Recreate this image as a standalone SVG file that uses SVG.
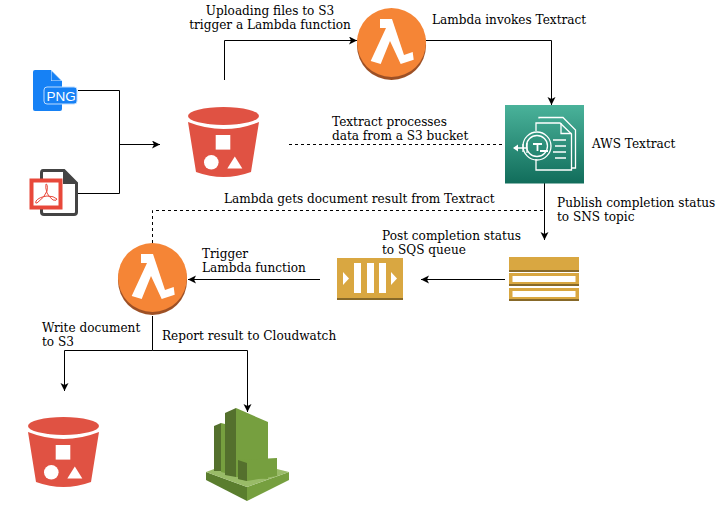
<svg xmlns="http://www.w3.org/2000/svg" width="726" height="519" viewBox="0 0 726 519">
<style>
text{font-family:"DejaVu Serif",serif;font-size:12.1px;fill:#000}
.c{fill:none;stroke:#000;stroke-width:1}
.d{stroke-dasharray:3 3}
.w{fill:#fff}
.r{fill:#e05243}
.o{fill:#f58536}
.g{fill:#d9a741}
.dg{fill:#876929}
</style>
<defs>
<marker id="a" markerUnits="userSpaceOnUse" markerWidth="10" markerHeight="10" refX="8" refY="4" orient="auto"><path d="M0 0L8 4L0 8L2 4Z" fill="#000"/></marker>
<g id="s3">
<path class="r" d="M0 15Q35.500 29 71 15L63 65Q35.500 75 8 65Z"/>
<ellipse class="r" cx="35.500" cy="9" rx="35.500" ry="9"/>
<rect class="w" x="27.700" y="28" width="14.600" height="14.600"/>
<circle class="w" cx="23.300" cy="55.300" r="7.300"/>
<path class="w" d="M39.300 61.500L46.800 49.500L54.300 61.500Z"/>
</g>
<g id="lam">
<circle cx="34.500" cy="37.500" r="34.500" fill="#9d5025"/>
<circle class="o" cx="34.500" cy="34.500" r="34.500"/>
<path class="w" d="M23 11H35L47 47L55.700 44L56.700 51.700L43.700 56L33 33L23.700 56L13.700 53L29 20H23Z"/>
</g>
<linearGradient id="tg" x1="0" y1="0" x2="0" y2="1"><stop offset="0" stop-color="#4ab29a"/><stop offset="1" stop-color="#116d5b"/></linearGradient>
</defs>

<g id="connectors">
<path class="c" d="M78 90.500H119.500V193.500H78M119.500 144.500H160" marker-end="url(#a)"/>
<path class="c" d="M224.500 80V40.500H357" marker-end="url(#a)"/>
<path class="c" d="M426 40.500H551.500V105" marker-end="url(#a)"/>
<path class="c d" d="M289 144.500H505"/>
<path class="c" d="M544.500 183V240" marker-end="url(#a)"/>
<path class="c d" d="M152.500 243V210.500H544"/>
<path class="c" d="M505 279.500H421" marker-end="url(#a)"/>
<path class="c" d="M320 279.500H188" marker-end="url(#a)"/>
<path class="c" d="M152.500 316V350.500H64.500V391" marker-end="url(#a)"/>
<path class="c" d="M152.500 350.500H247.500V412" marker-end="url(#a)"/>
</g>

<g id="png">
<path d="M35 70H51L62 81V109Q62 111 60 111H35Q33 111 33 109V72Q33 70 35 70Z" fill="#1681f5"/>
<path d="M51 70V81H62" fill="#fff" opacity=".85"/>
<path d="M51.500 71L61 80.500H51.500Z" fill="#1681f5"/>
<rect x="44" y="87" width="33" height="17" rx="3" fill="#1681f5" stroke="#bcdcff" stroke-width="1"/>
<text x="46.500" y="101" style="font-family:'Liberation Sans',sans-serif;font-size:13.500px;fill:#fff">PNG</text>
</g>
<g id="pdf">
<path d="M43 170.500H64L76.500 183V212Q76.500 214.500 74 214.500H44Q41.500 214.500 41.500 212V173Q41.500 170.500 43 170.500Z" fill="#fff" stroke="#444" stroke-width="3"/>
<path d="M63 170L77 184H63Z" fill="#444"/>
<rect x="30" y="179" width="32" height="30" fill="#fff"/>
<rect x="31.500" y="180.500" width="29" height="27" fill="#fff" stroke="#e8483a" stroke-width="4"/>
<path d="M46 184Q48 184 47 191Q45 197 37 203Q35 204 36 201Q39 197 47 196Q54 196 57 199Q57 201 53 200Q49 197 47 193Q45 187 46 184Z" fill="none" stroke="#e8483a" stroke-width="1"/>
</g>
<g id="s3-source"><use href="#s3" x="188" y="107"/></g>
<g id="lambda-trigger"><use href="#lam" x="357" y="8"/></g>
<g id="textract">
<rect x="505" y="105" width="79" height="78.500" fill="url(#tg)"/>
<g fill="none" stroke="#fff" stroke-width="1.300">
<path d="M539 118.500V117.500H563L575.500 130V168H572"/>
<path d="M536 131V123H560L571.500 134V170H536V159"/>
<path d="M561 123V133.500H571.500"/>
<circle cx="537" cy="146" r="10.500"/>
<circle cx="537" cy="146" r="14"/>
<path d="M553 140H566M555 146H566M553 152H566M555 158H566M514 148H526M523 144V152M527 143V153"/>
<path d="M533 144H542M537.500 144V151M540 151H548" stroke-width="1.800"/>
</g>
<path d="M513 148L518 144.500V151.500Z" fill="#fff"/>
</g>
<g id="sns">
<rect class="g" x="509" y="257" width="70" height="13"/>
<rect class="dg" x="509" y="270" width="70" height="2"/>
<rect class="g" x="509" y="273" width="70" height="13"/>
<rect class="dg" x="509" y="284" width="70" height="2"/>
<rect class="w" x="512.500" y="276" width="63" height="6"/>
<rect class="g" x="509" y="288" width="70" height="13"/>
<rect class="dg" x="509" y="299" width="70" height="2"/>
<rect class="w" x="512.500" y="291" width="63" height="6"/>
</g>
<g id="sqs">
<rect class="g" x="337" y="258" width="66" height="42"/>
<rect class="dg" x="337" y="298" width="66" height="2"/>
<rect class="w" x="354" y="263" width="7" height="30"/>
<rect class="w" x="367" y="263" width="7" height="30"/>
<rect class="w" x="379" y="263" width="7" height="30"/>
<path class="w" d="M343 272L349 278.500L343 285ZM391 272L397 278.500L391 285Z"/>
</g>
<g id="lambda-result"><use href="#lam" x="118" y="243"/></g>
<g id="s3-output"><use href="#s3" x="28" y="417"/></g>
<g id="cloudwatch">
<path d="M206 472L247 487V501L206 480Z" fill="#5a7d2e"/>
<path d="M289 472L247 487V501L289 480Z" fill="#769f3f"/>
<path d="M206 472L214 469L247 470L277 469L289 472L247 487Z" fill="#99bb68"/>
<path d="M214 426L221 423V471L214 471Z" fill="#54702d"/>
<path d="M221 423L225 424V473L221 472Z" fill="#769f3f"/>
<path d="M225 413L236 408V477L225 475Z" fill="#54702d"/>
<path d="M236 408L268 422V479L236 477Z" fill="#769f3f"/>
<path d="M238 460L277 458V476L247 481L238 479Z" fill="#769f3f"/>
<path d="M238 460L247 463V481L238 479Z" fill="#54702d"/>
</g>

<g id="labels">
<text x="270" y="15" text-anchor="middle">Uploading files to S3</text>
<text x="270" y="29" text-anchor="middle">trigger a Lambda function</text>
<text x="432" y="24">Lambda invokes Textract</text>
<text x="332" y="126">Textract processes</text>
<text x="332" y="140">data from a S3 bucket</text>
<text x="592" y="148">AWS Textract</text>
<text x="224" y="203">Lambda gets document result from Textract</text>
<text x="557" y="207">Publish completion status</text>
<text x="557" y="221">to SNS topic</text>
<text x="382" y="240">Post completion status</text>
<text x="382" y="254">to SQS queue</text>
<text x="202" y="258">Trigger</text>
<text x="202" y="272">Lambda function</text>
<text x="42" y="332">Write document</text>
<text x="42" y="346">to S3</text>
<text x="162" y="340">Report result to Cloudwatch</text>
</g>
</svg>
